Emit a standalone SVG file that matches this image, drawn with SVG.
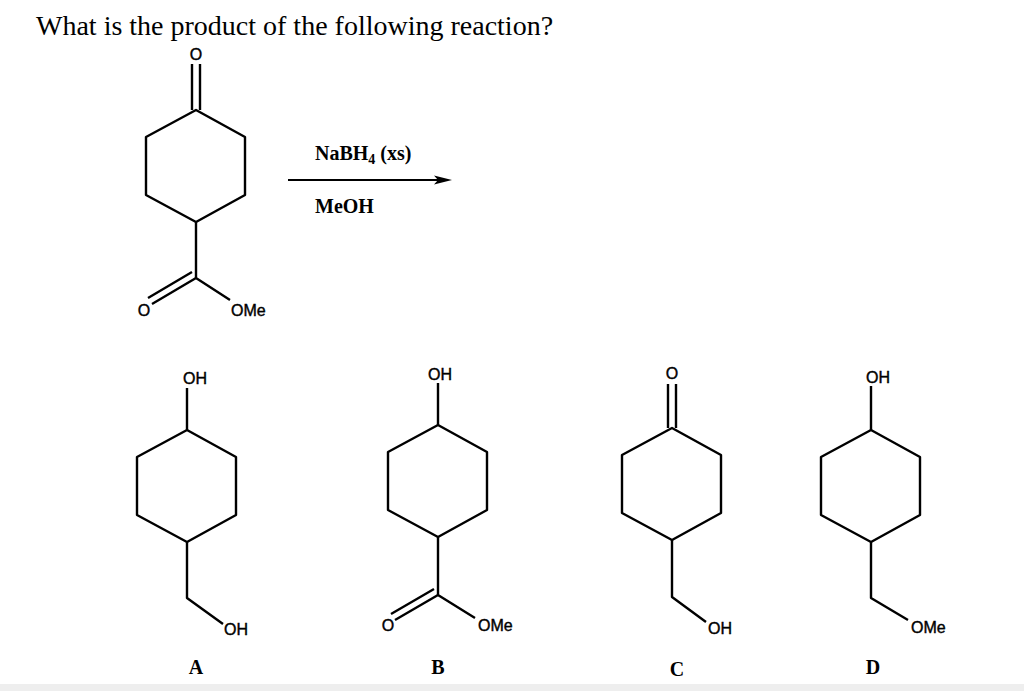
<svg xmlns="http://www.w3.org/2000/svg" width="1024" height="691" viewBox="0 0 1024 691">
<style>
.b{stroke:#000;stroke-width:2.4;fill:none;stroke-linejoin:round}
.a{font-family:"Liberation Sans",Arial,sans-serif;font-size:16px;fill:#000;stroke:#000;stroke-width:0.4}
.t{font-family:"Liberation Serif","Times New Roman",serif;fill:#000}
</style>
<defs>
<path id="ring" d="M0,0L49,27L49,85L0,112L-50,85L-50,27Z"/>
</defs>
<rect width="1024" height="691" fill="#fff"/>
<rect y="684" width="1024" height="7" fill="#eeeeee"/>
<text class="t" x="36" y="35" font-size="28">What is the product of the following reaction?</text>
<g id="reactant">
<use href="#ring" x="196" y="110" class="b"/>
<path class="b" d="M192,110V64M200,110V64M196,222V278L230,300"/>
<path class="b" d="M196,278L152,304M192,272L148,298"/>
<text class="a" x="196" y="60" text-anchor="middle">O</text>
<text class="a" x="144" y="316" text-anchor="middle">O</text>
<text class="a" x="231" y="316">OMe</text>
</g>
<g id="connectors">
<line x1="288" y1="180" x2="440" y2="180" stroke="#000" stroke-width="2"/>
<path d="M434,175.5L452,180L434,184.5L438,180z" fill="#000"/>
<text class="t" x="315" y="160" font-size="20" font-weight="bold">NaBH<tspan font-size="14" dy="4">4</tspan><tspan dy="-4"> (xs)</tspan></text>
<text class="t" x="315" y="213" font-size="20" font-weight="bold">MeOH</text>
</g>
<g id="A">
<use href="#ring" x="187" y="430" class="b"/>
<path class="b" d="M187,430V388M187,542V598L223,624"/>
<text class="a" x="195" y="384" text-anchor="middle">OH</text>
<text class="a" x="224" y="635">OH</text>
<text class="t" x="196" y="674" font-size="20" font-weight="bold" text-anchor="middle">A</text>
</g>
<g id="B">
<use href="#ring" x="438" y="425" class="b"/>
<path class="b" d="M438,425V383M438,537V595L475,618"/>
<path class="b" d="M438,595L395,620M434,589L391,614"/>
<text class="a" x="388" y="631" text-anchor="middle">O</text>
<text class="a" x="440" y="380" text-anchor="middle">OH</text>
<text class="a" x="478" y="631">OMe</text>
<text class="t" x="438" y="674" font-size="20" font-weight="bold" text-anchor="middle">B</text>
</g>
<g id="C">
<use href="#ring" x="672" y="428" class="b"/>
<path class="b" d="M668,428V384M676,428V384M672,540V597L706,622"/>
<text class="a" x="672" y="379" text-anchor="middle">O</text>
<text class="a" x="708" y="634">OH</text>
<text class="t" x="677" y="676" font-size="20" font-weight="bold" text-anchor="middle">C</text>
</g>
<g id="D">
<use href="#ring" x="871" y="430" class="b"/>
<path class="b" d="M871,430V386M871,542V598L908,620"/>
<text class="a" x="878" y="383" text-anchor="middle">OH</text>
<text class="a" x="911" y="633">OMe</text>
<text class="t" x="873" y="674" font-size="20" font-weight="bold" text-anchor="middle">D</text>
</g>
</svg>
